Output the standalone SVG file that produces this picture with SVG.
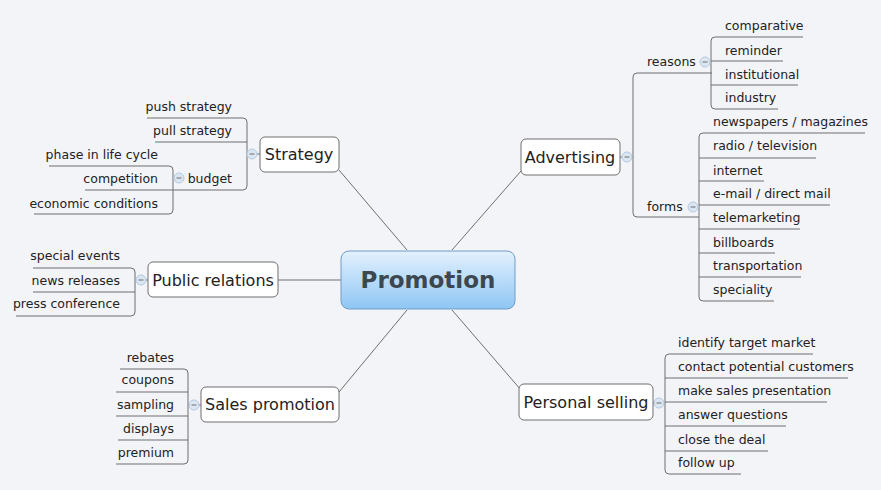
<svg xmlns="http://www.w3.org/2000/svg" width="881" height="490" viewBox="0 0 881 490">
<defs>
<linearGradient id="g" x1="0" y1="0" x2="0" y2="1"><stop offset="0" stop-color="#e3f1fd"/><stop offset="1" stop-color="#8fc6f4"/></linearGradient>
<style>
text{font-family:"DejaVu Sans",Verdana,sans-serif;fill:#222}
.l{font-size:12.5px}
.r{text-anchor:end}
.t{font-size:16px;text-anchor:middle}
.n{fill:#fff;stroke:#6f6f6f;stroke-width:1}
path,line{fill:none;stroke:#6f6f6f;stroke-width:1}
.c{fill:#dbe6f3;stroke:#b5c9e0}
.cl{stroke:#9ab3cf}
</style>
</defs>
<rect width="881" height="490" fill="#f3f4f8"/>
<g id="connectors">
<line x1="339" y1="170" x2="407" y2="250"/>
<line x1="521" y1="171" x2="452" y2="250"/>
<line x1="278" y1="280" x2="341" y2="280"/>
<line x1="339" y1="392" x2="407" y2="310"/>
<line x1="521" y1="390" x2="452" y2="310"/>
<!-- strategy -->
<path d="M147 118 H243 Q247 118 247 122 V186 Q247 190 243 190 H173"/>
<line x1="155" y1="142" x2="247" y2="142"/>
<line x1="247" y1="154" x2="260" y2="154"/>
<path d="M49 166 H169 Q173 166 173 170 V210 Q173 214 169 214 H34"/>
<line x1="85" y1="190" x2="173" y2="190"/>
<!-- public relations -->
<path d="M33 268 H131 Q135 268 135 272 V312 Q135 316 131 316 H16"/>
<line x1="33" y1="292" x2="135" y2="292"/>
<line x1="135" y1="280" x2="148" y2="280"/>
<!-- sales promotion -->
<path d="M120 369 H184 Q188 369 188 373 V460 Q188 464 184 464 H116"/>
<line x1="116" y1="392" x2="188" y2="392"/>
<line x1="116" y1="416" x2="188" y2="416"/>
<line x1="118" y1="440" x2="188" y2="440"/>
<line x1="188" y1="405" x2="201" y2="405"/>
<!-- advertising -->
<line x1="620" y1="157" x2="633" y2="157"/>
<path d="M712 73 H637 Q633 73 633 77 V213 Q633 217 637 217 H699"/>
<path d="M803 37 H715 Q711 37 711 41 V105 Q711 109 715 109 H778"/>
<line x1="711" y1="61" x2="783" y2="61"/>
<line x1="711" y1="85" x2="798" y2="85"/>
<path d="M865 133 H703 Q699 133 699 137 V297 Q699 301 703 301 H774"/>
<line x1="699" y1="158" x2="816" y2="158"/>
<line x1="699" y1="181" x2="764" y2="181"/>
<line x1="699" y1="205" x2="830" y2="205"/>
<line x1="699" y1="229" x2="800" y2="229"/>
<line x1="699" y1="253" x2="775" y2="253"/>
<line x1="699" y1="277" x2="801" y2="277"/>
<!-- personal selling -->
<line x1="653" y1="403" x2="665" y2="403"/>
<path d="M813 354 H669 Q665 354 665 358 V470 Q665 474 669 474 H741"/>
<line x1="665" y1="378" x2="848" y2="378"/>
<line x1="665" y1="402" x2="827" y2="402"/>
<line x1="665" y1="426" x2="786" y2="426"/>
<line x1="665" y1="451" x2="768" y2="451"/>
<!-- collapse circles -->
<g class="cl">
<circle class="c" cx="252" cy="154" r="5"/><line x1="249.5" y1="154" x2="254.5" y2="154"/>
<circle class="c" cx="179" cy="178" r="5"/><line x1="176.5" y1="178" x2="181.5" y2="178"/>
<circle class="c" cx="141" cy="280" r="5"/><line x1="138.5" y1="280" x2="143.5" y2="280"/>
<circle class="c" cx="194" cy="405" r="5"/><line x1="191.5" y1="405" x2="196.5" y2="405"/>
<circle class="c" cx="627" cy="157" r="5"/><line x1="624.5" y1="157" x2="629.5" y2="157"/>
<circle class="c" cx="705" cy="62" r="5"/><line x1="702.5" y1="62" x2="707.5" y2="62"/>
<circle class="c" cx="693" cy="207" r="5"/><line x1="690.5" y1="207" x2="695.5" y2="207"/>
<circle class="c" cx="659" cy="403" r="5"/><line x1="656.5" y1="403" x2="661.5" y2="403"/>
</g>
</g>
<g id="promotion"><rect x="341" y="251" width="174" height="58" rx="8" fill="url(#g)" stroke="#6e9cc8"/><text x="428" y="288" style="font-size:23px;font-weight:bold;text-anchor:middle;fill:#3d4750">Promotion</text></g>
<g id="strategy"><rect class="n" x="260" y="137" width="79" height="35" rx="5"/><text class="t" x="299" y="160">Strategy</text></g>
<g id="advertising"><rect class="n" x="521" y="139" width="99" height="36" rx="5"/><text class="t" x="570" y="163">Advertising</text></g>
<g id="public-relations"><rect class="n" x="148" y="262" width="130" height="35" rx="5"/><text class="t" x="213" y="286">Public relations</text></g>
<g id="sales-promotion"><rect class="n" x="201" y="387" width="138" height="35" rx="5"/><text class="t" x="270" y="410">Sales promotion</text></g>
<g id="personal-selling"><rect class="n" x="519" y="384" width="134" height="36" rx="5"/><text class="t" x="586" y="408">Personal selling</text></g>
<g id="strategy-leaves" class="l">
<text class="l r" x="232" y="111">push strategy</text>
<text class="l r" x="232" y="135">pull strategy</text>
<text class="l r" x="232" y="183">budget</text>
<text class="l r" x="158" y="159">phase in life cycle</text>
<text class="l r" x="158" y="183">competition</text>
<text class="l r" x="158" y="208">economic conditions</text>
</g>
<g id="pr-leaves">
<text class="l r" x="120" y="260">special events</text>
<text class="l r" x="120" y="285">news releases</text>
<text class="l r" x="120" y="308">press conference</text>
</g>
<g id="sales-leaves">
<text class="l r" x="174" y="362">rebates</text>
<text class="l r" x="174" y="384">coupons</text>
<text class="l r" x="174" y="409">sampling</text>
<text class="l r" x="174" y="433">displays</text>
<text class="l r" x="174" y="457">premium</text>
</g>
<g id="advertising-leaves">
<text class="l" x="647" y="66">reasons</text>
<text class="l" x="647" y="211">forms</text>
<text class="l" x="725" y="30">comparative</text>
<text class="l" x="725" y="55">reminder</text>
<text class="l" x="725" y="79">institutional</text>
<text class="l" x="725" y="102">industry</text>
<text class="l" x="713" y="126">newspapers / magazines</text>
<text class="l" x="713" y="150">radio / television</text>
<text class="l" x="713" y="175">internet</text>
<text class="l" x="713" y="198">e-mail / direct mail</text>
<text class="l" x="713" y="222">telemarketing</text>
<text class="l" x="713" y="247">billboards</text>
<text class="l" x="713" y="270">transportation</text>
<text class="l" x="713" y="294">speciality</text>
</g>
<g id="selling-leaves">
<text class="l" x="678" y="347">identify target market</text>
<text class="l" x="678" y="371">contact potential customers</text>
<text class="l" x="678" y="395">make sales presentation</text>
<text class="l" x="678" y="419">answer questions</text>
<text class="l" x="678" y="444">close the deal</text>
<text class="l" x="678" y="467">follow up</text>
</g>
</svg>
